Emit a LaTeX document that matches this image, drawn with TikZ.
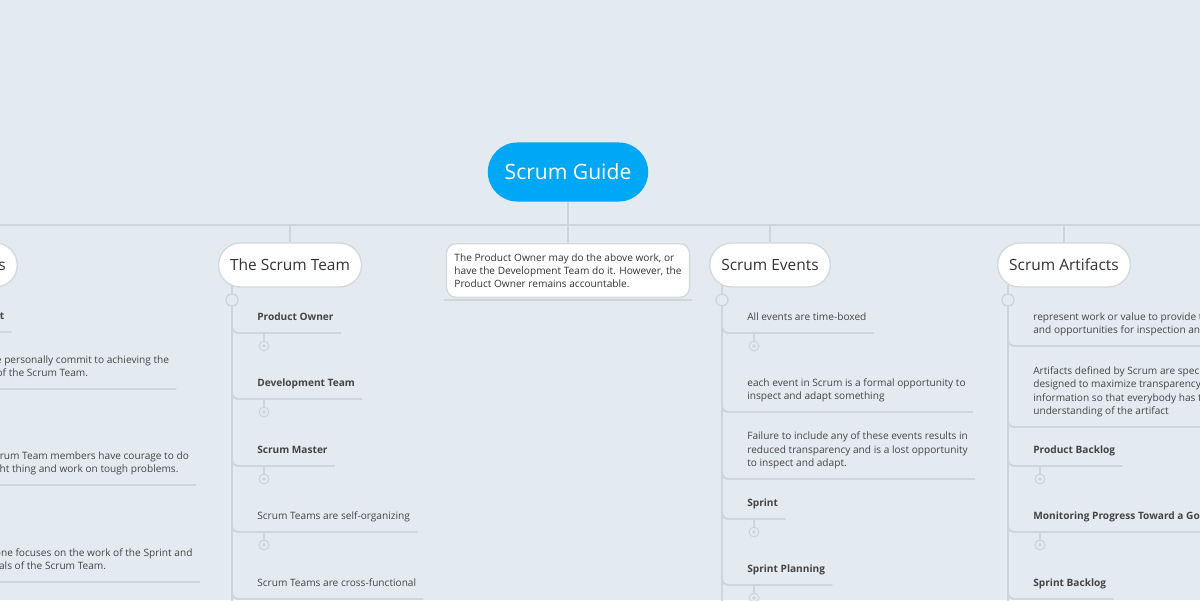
\documentclass[tikz,border=0pt]{standalone}
\usepackage{fontspec}
\setmainfont{Open Sans}
\usetikzlibrary{calc}
\definecolor{paper}{RGB}{228,235,240}
\definecolor{wiregrey}{RGB}{206,214,219}
\definecolor{rimgrey}{RGB}{210,218,223}
\definecolor{sky}{RGB}{0,167,245}
\definecolor{ink}{RGB}{51,51,51}
\definecolor{inkl}{RGB}{68,68,68}

\tikzset{
  wire/.style={draw=wiregrey, line width=1.3pt},
  hub/.style={fill=sky, text=white, rounded corners=21pt, minimum height=42pt,
    inner xsep=12pt, font=\fontsize{15}{18}\selectfont},
  topic/.style={draw=rimgrey, line width=1pt, fill=white, rounded corners=15.6pt,
    minimum height=31.3pt, inner xsep=8.2pt, text=ink, font=\fontsize{11}{13}\selectfont},
  memo/.style={draw=rimgrey, line width=1pt, fill=white, rounded corners=7pt, align=left,
    inner xsep=5.7pt, inner ysep=7pt, text=ink, font=\fontsize{7.2}{9.3}\selectfont},
  leaf/.style={anchor=south west, inner xsep=5pt, inner ysep=5.6pt, align=left,
    text=inkl, font=\fontsize{7.2}{9.6}\selectfont, execute at end node=\strut},
  head/.style={leaf, font=\fontsize{7.2}{9.6}\selectfont\bfseries},
  joint/.style={circle, draw=wiregrey, line width=1pt, fill=paper, minimum size=8.5pt, inner sep=0pt},
  knob/.style={circle, draw=wiregrey, line width=0.8pt, fill=paper, minimum size=7pt, inner sep=0pt,
    path picture={\fill[wiregrey] (path picture bounding box.center) circle (1.3pt);}}
}

\begin{document}
\begin{tikzpicture}[x=0.025cm, y=-0.025cm]
\fill[paper] (0,0) rectangle (1200,600);
\useasboundingbox (0,0) rectangle (1200,600);
\clip (0,0) rectangle (1200,600);

% central topic and main branches
\node[hub] (guide) at (568,172) {Scrum Guide};
\node[topic, anchor=east] (vals) at (18,265) {Scrum Values};
\node[topic] (team) at (290,265) {The Scrum Team};
\node[topic] (evts) at (770,265) {Scrum Events};
\node[topic] (arts) at (1064,265) {Scrum Artifacts};
\node[memo, anchor=north] (memo) at (568,243) {The Product Owner may do the above work, or\\
  have the Development Team do it. However, the\\ Product Owner remains accountable.};
\coordinate (barL) at (-300,225);
\coordinate (barR) at (1500,225);

\node[joint] (vals-j) at (-88,300) {};
\node[joint] (team-j) at (232,300) {};
\node[joint] (evts-j) at (722,300) {};
\node[joint] (arts-j) at (1008,300) {};
\coordinate (cm-j) at (-56,332);

% Scrum Values
\node[head] (cm) at (-70,332) {Commitment};
\node[leaf] (pc) at (-38,389) {People personally commit to achieving the\\ goals of the Scrum Team.};
\node[leaf] (tc) at (-38,485) {The Scrum Team members have courage to do\\ the right thing and work on tough problems.};
\node[leaf] (ef) at (-38,582) {Everyone focuses on the work of the Sprint and\\ the goals of the Scrum Team.};

% The Scrum Team
\node[head] (po) at (250,333) {Product Owner};
\node[head] (dt) at (250,399) {Development Team};
\node[head] (sm) at (250,466) {Scrum Master};
\node[leaf] (so) at (250,532) {Scrum Teams are self-organizing};
\node[leaf] (cf) at (250,599) {Scrum Teams are cross-functional};

% Scrum Events
\node[leaf] (ab) at (740,333) {All events are time-boxed};
\node[leaf] (ee) at (740,412) {each event in Scrum is a formal opportunity to\\ inspect and adapt something};
\node[leaf] (fi) at (740,479) {Failure to include any of these events results in\\
  reduced transparency and is a lost opportunity\\ to inspect and adapt.};
\node[head] (sp) at (740,519) {Sprint};
\node[head] (pl) at (740,585) {Sprint Planning};

% Scrum Artifacts
\node[leaf] (rw) at (1026,346) {represent work or value to provide transparency\\
  and opportunities for inspection and adaptation.};
\node[leaf] (ad) at (1026,427) {Artifacts defined by Scrum are specifically\\
  designed to maximize transparency of key\\ information so that everybody has the same\\
  understanding of the artifact};
\node[head] (pb) at (1026,466) {Product Backlog};
\node[head] (mp) at (1026,532) {Monitoring Progress Toward a Goal};
\node[head] (sb) at (1026,599) {Sprint Backlog};

% connectors
\draw[wire] (barL) -- (barR);
\draw[wire] (guide) -- (memo);
\draw[wire] ($(memo.south west)+(-2,2)$) -- ($(memo.south east)+(2,2)$);
\foreach \t in {vals,team,evts,arts}{
  \draw[wire] (\t.north) -- (\t.north |- barL);
  \draw[wire] (\t-j.north) -- ($(\t-j.north |- \t.south)+(0,-3)$);
  \draw[wire] (\t-j.south) -- ++(0,340);
}
\draw[wire] (cm-j) -- ++(0,300);
\foreach \i/\s in {cm/vals, pc/cm, tc/cm, ef/cm, po/team, dt/team, sm/team, so/team, cf/team,
  ab/evts, ee/evts, fi/evts, sp/evts, pl/evts, rw/arts, ad/arts, pb/arts, mp/arts, sb/arts}
  \draw[wire, rounded corners=4pt] (\s-j |- \i.center) |- (\i.south east);
\foreach \i/\s in {po/team, dt/team, sm/team, so/team, ab/evts, sp/evts, pl/evts, pb/arts, mp/arts}{
  \node[knob] (\i-k) at ($(\s-j |- \i.south)+(32,13)$) {};
  \draw[wire] (\i-k.north) -- (\i-k.north |- \i.south);
}
\end{tikzpicture}
\end{document}
